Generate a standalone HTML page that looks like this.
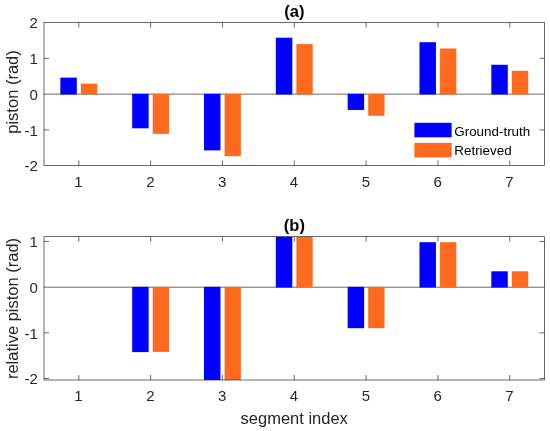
<!DOCTYPE html>
<html><head><meta charset="utf-8"><title>piston</title>
<style>
html,body{margin:0;padding:0;background:#fff;}
svg{display:block}
text{font-family:"Liberation Sans",Arial,Helvetica,sans-serif;fill:#262626}
.tk{font-size:15px}
.lb{font-size:16.5px}
.ti{font-size:16.5px;font-weight:bold;fill:#000}
.lg{font-size:13.4px;fill:#000}
.ax{stroke:#303030;stroke-width:0.72;fill:none}
</style></head><body>
<svg width="550" height="431" viewBox="0 0 550 431">
<rect width="550" height="431" fill="#fff"/>
<clipPath id="ca"><rect x="44.0" y="22.5" width="500.5" height="143.04999999999998"/></clipPath>
<path class="ax" d="M44.0 94.15H544.5"/>
<g clip-path="url(#ca)">
<rect x="60.35" y="77.60" width="16.45" height="16.90" fill="#0000ff"/>
<rect x="80.90" y="83.60" width="16.30" height="10.90" fill="#ff6a1e"/>
<rect x="132.18" y="93.80" width="16.45" height="34.50" fill="#0000ff"/>
<rect x="152.73" y="93.80" width="16.30" height="40.10" fill="#ff6a1e"/>
<rect x="204.01" y="93.80" width="16.45" height="56.60" fill="#0000ff"/>
<rect x="224.56" y="93.80" width="16.30" height="62.40" fill="#ff6a1e"/>
<rect x="275.84" y="37.70" width="16.45" height="56.80" fill="#0000ff"/>
<rect x="296.39" y="44.10" width="16.30" height="50.40" fill="#ff6a1e"/>
<rect x="347.67" y="93.80" width="16.45" height="16.15" fill="#0000ff"/>
<rect x="368.22" y="93.80" width="16.30" height="22.00" fill="#ff6a1e"/>
<rect x="419.50" y="42.20" width="16.45" height="52.30" fill="#0000ff"/>
<rect x="440.05" y="48.50" width="16.30" height="46.00" fill="#ff6a1e"/>
<rect x="491.33" y="64.80" width="16.45" height="29.70" fill="#0000ff"/>
<rect x="511.88" y="70.80" width="16.30" height="23.70" fill="#ff6a1e"/>
</g>
<rect class="ax" x="44.0" y="22.5" width="500.5" height="142.95"/>
<path class="ax" d="M78.80 165.45v-5M78.80 22.5v5M150.63 165.45v-5M150.63 22.5v5M222.46 165.45v-5M222.46 22.5v5M294.29 165.45v-5M294.29 22.5v5M366.12 165.45v-5M366.12 22.5v5M437.95 165.45v-5M437.95 22.5v5M509.78 165.45v-5M509.78 22.5v5M44.0 58.35h5M544.5 58.35h-5M44.0 129.9h5M544.5 129.9h-5"/>
<text class="tk" x="78.50" y="186.65" text-anchor="middle">1</text>
<text class="tk" x="150.33" y="186.65" text-anchor="middle">2</text>
<text class="tk" x="222.16" y="186.65" text-anchor="middle">3</text>
<text class="tk" x="293.99" y="186.65" text-anchor="middle">4</text>
<text class="tk" x="365.82" y="186.65" text-anchor="middle">5</text>
<text class="tk" x="437.65" y="186.65" text-anchor="middle">6</text>
<text class="tk" x="509.48" y="186.65" text-anchor="middle">7</text>
<text class="tk" x="37.90" y="28.30" text-anchor="end">2</text>
<text class="tk" x="37.90" y="64.15" text-anchor="end">1</text>
<text class="tk" x="37.90" y="99.95" text-anchor="end">0</text>
<text class="tk" x="37.90" y="135.70" text-anchor="end">-1</text>
<text class="tk" x="37.90" y="171.25" text-anchor="end">-2</text>
<text class="ti" x="294.4" y="16.50" text-anchor="middle">(a)</text>
<text class="lb" transform="translate(18.4 92.0) rotate(-90)" text-anchor="middle">piston (rad)</text>
<clipPath id="cb"><rect x="44.0" y="236.65" width="500.5" height="143.45"/></clipPath>
<path class="ax" d="M44.0 287.2H544.5"/>
<g clip-path="url(#cb)">
<rect x="132.18" y="286.85" width="16.45" height="65.25" fill="#0000ff"/>
<rect x="152.73" y="286.85" width="16.30" height="65.05" fill="#ff6a1e"/>
<rect x="204.01" y="286.85" width="16.45" height="113.15" fill="#0000ff"/>
<rect x="224.56" y="286.85" width="16.30" height="113.15" fill="#ff6a1e"/>
<rect x="275.84" y="200.00" width="16.45" height="87.55" fill="#0000ff"/>
<rect x="296.39" y="200.00" width="16.30" height="87.55" fill="#ff6a1e"/>
<rect x="347.67" y="286.85" width="16.45" height="41.35" fill="#0000ff"/>
<rect x="368.22" y="286.85" width="16.30" height="41.35" fill="#ff6a1e"/>
<rect x="419.50" y="242.20" width="16.45" height="45.35" fill="#0000ff"/>
<rect x="440.05" y="242.20" width="16.30" height="45.35" fill="#ff6a1e"/>
<rect x="491.33" y="271.30" width="16.45" height="16.25" fill="#0000ff"/>
<rect x="511.88" y="271.30" width="16.30" height="16.25" fill="#ff6a1e"/>
</g>
<rect class="ax" x="44.0" y="236.65" width="500.5" height="143.35"/>
<path class="ax" d="M78.80 380.0v-5M78.80 236.65v5M150.63 380.0v-5M150.63 236.65v5M222.46 380.0v-5M222.46 236.65v5M294.29 380.0v-5M294.29 236.65v5M366.12 380.0v-5M366.12 236.65v5M437.95 380.0v-5M437.95 236.65v5M509.78 380.0v-5M509.78 236.65v5M44.0 241.45h5M544.5 241.45h-5M44.0 332.85h5M544.5 332.85h-5M44.0 378.5h5M544.5 378.5h-5"/>
<text class="tk" x="78.50" y="400.90" text-anchor="middle">1</text>
<text class="tk" x="150.33" y="400.90" text-anchor="middle">2</text>
<text class="tk" x="222.16" y="400.90" text-anchor="middle">3</text>
<text class="tk" x="293.99" y="400.90" text-anchor="middle">4</text>
<text class="tk" x="365.82" y="400.90" text-anchor="middle">5</text>
<text class="tk" x="437.65" y="400.90" text-anchor="middle">6</text>
<text class="tk" x="509.48" y="400.90" text-anchor="middle">7</text>
<text class="tk" x="37.90" y="247.25" text-anchor="end">1</text>
<text class="tk" x="37.90" y="293.00" text-anchor="end">0</text>
<text class="tk" x="37.90" y="338.65" text-anchor="end">-1</text>
<text class="tk" x="37.90" y="384.30" text-anchor="end">-2</text>
<text class="ti" x="294.4" y="230.65" text-anchor="middle">(b)</text>
<text class="lb" transform="translate(18.4 308.5) rotate(-90)" text-anchor="middle">relative piston (rad)</text>
<rect x="414.4" y="122.8" width="37.2" height="14.5" fill="#0000ff"/>
<rect x="414.4" y="142.9" width="37.2" height="14.5" fill="#ff6a1e"/>
<text class="lg" x="454.3" y="135.5">Ground-truth</text>
<text class="lg" x="454.3" y="155.3">Retrieved</text>
<text class="lb" x="294.2" y="423.5" text-anchor="middle">segment index</text>
</svg></body></html>
